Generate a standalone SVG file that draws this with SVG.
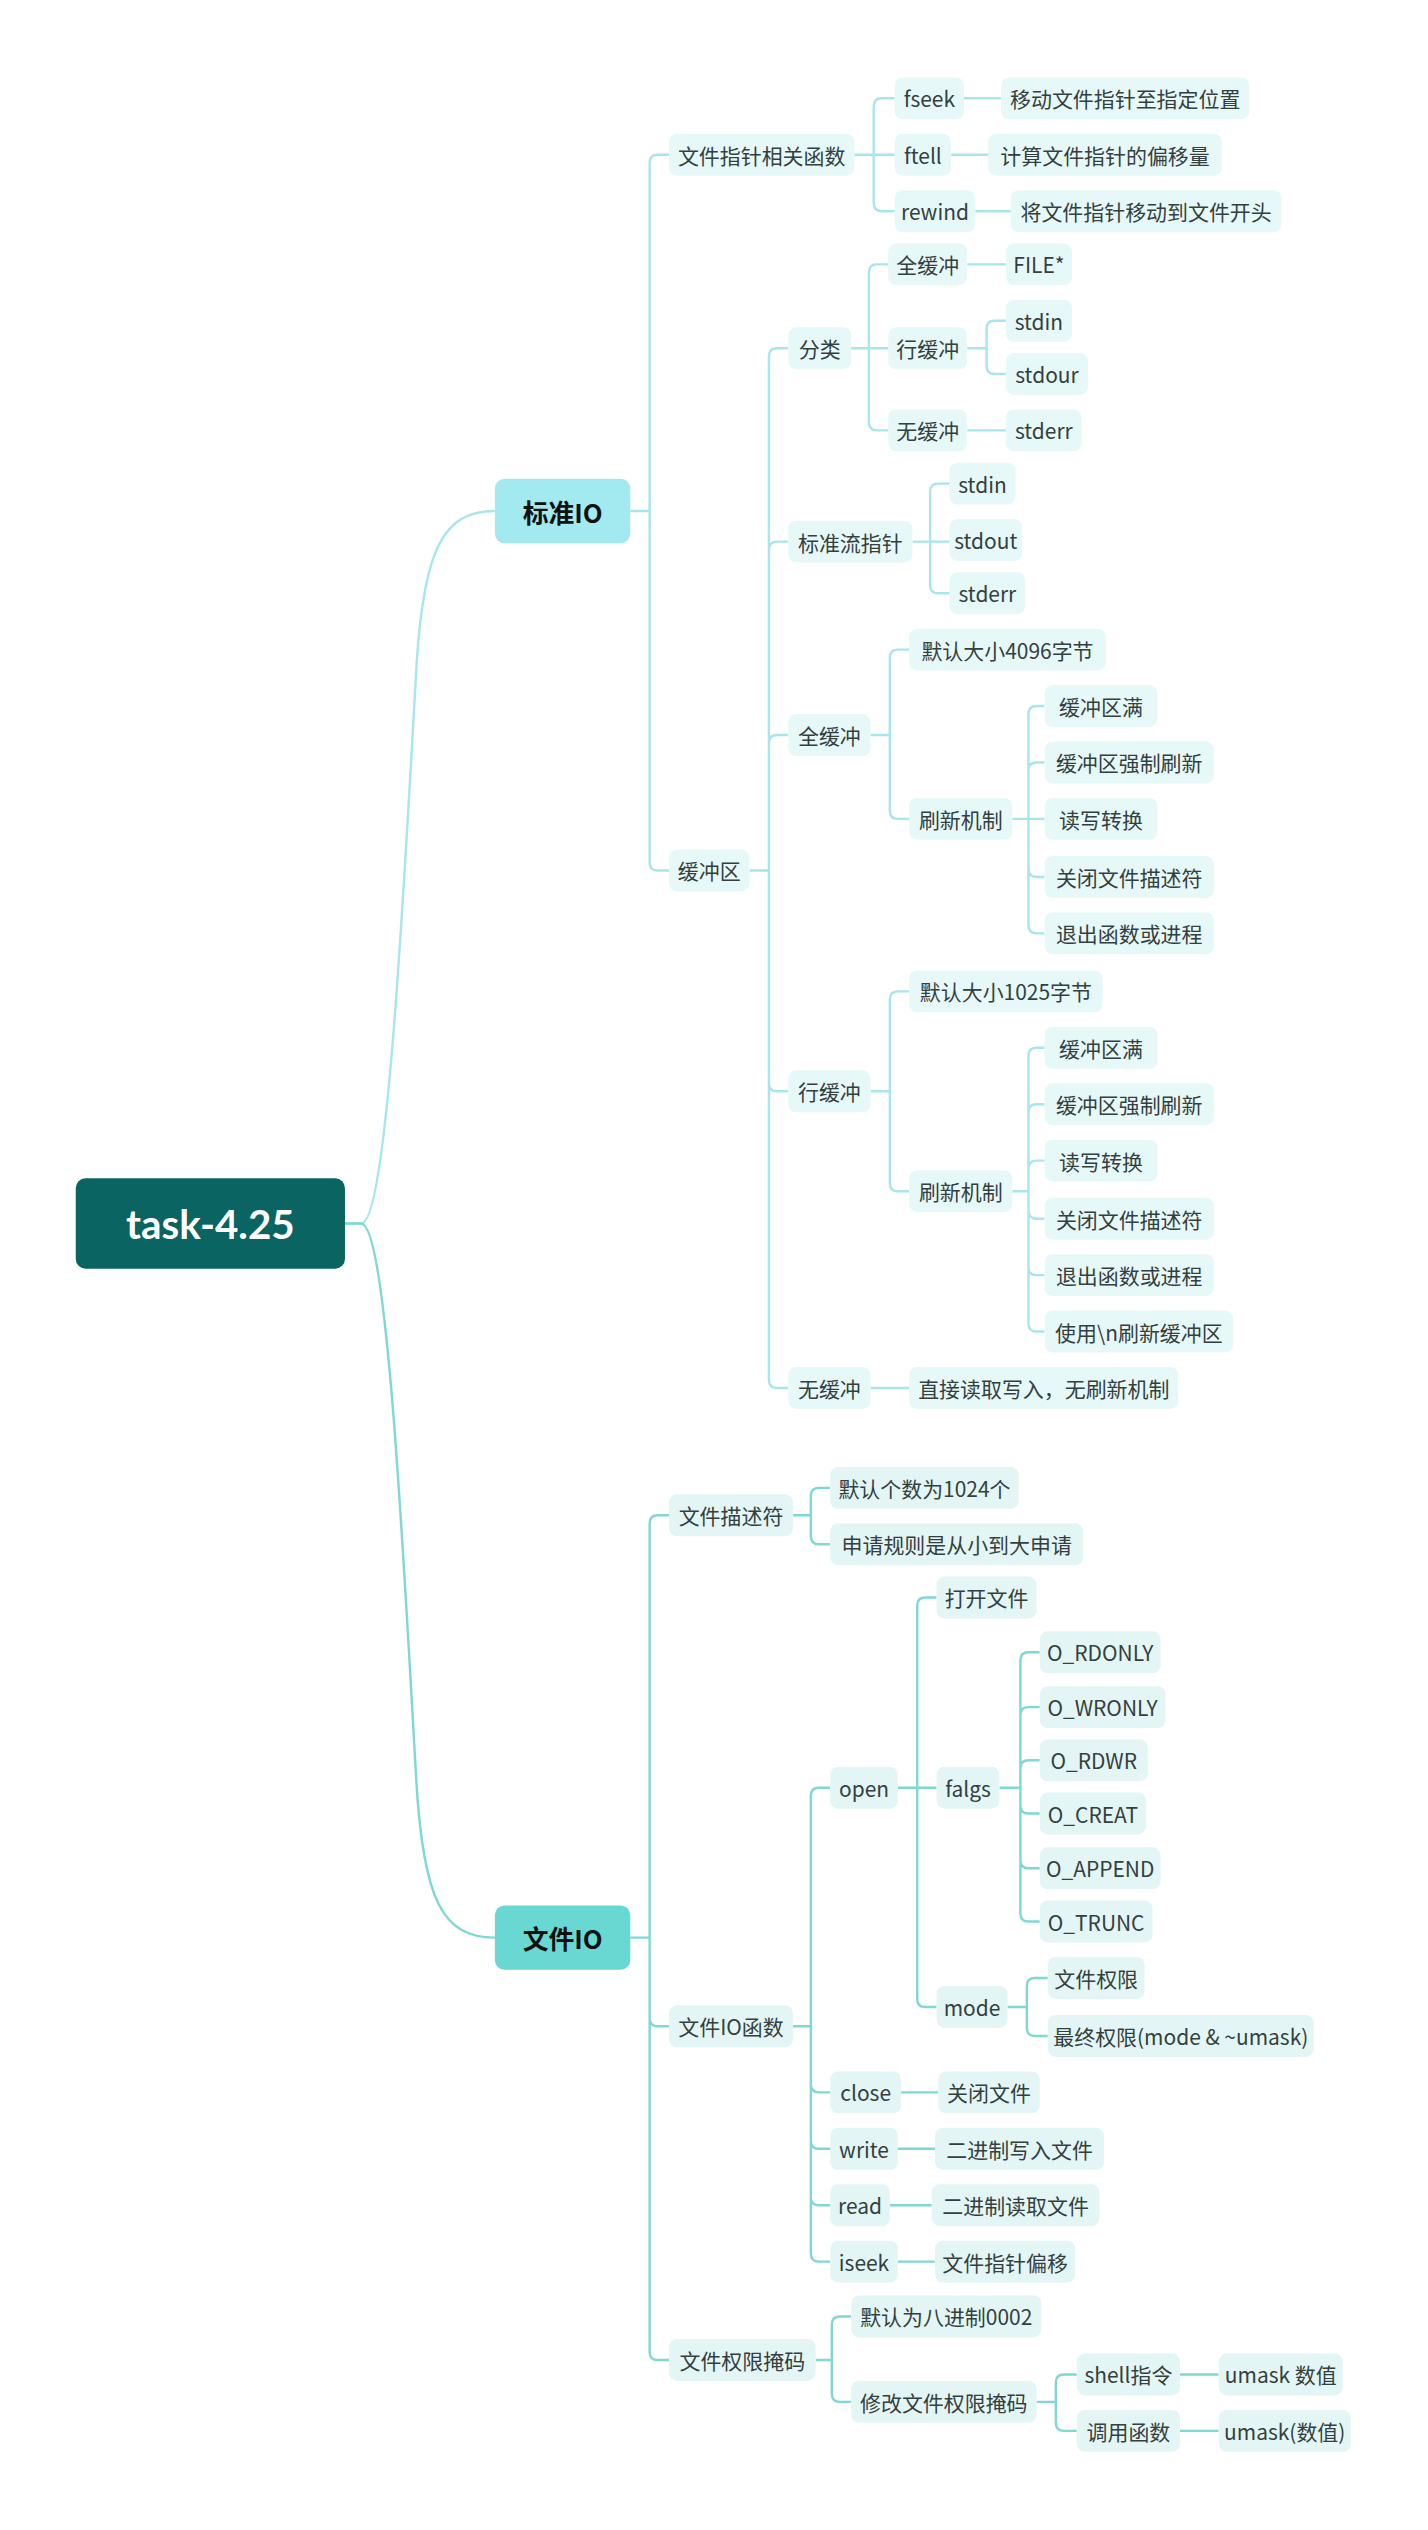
<svg xmlns="http://www.w3.org/2000/svg" width="1428" height="2530" viewBox="0 0 1428 2530">
<style>
.n rect{fill:#e7f8f9}
.m rect{fill:#e3f6f5}
text{font-family:"Noto Sans CJK SC","Noto Sans",sans-serif;font-size:13px;fill:#33403f;text-anchor:middle;dominant-baseline:central}
.u{fill:none;stroke:#a8e6ec;stroke-width:1.5}
.l{fill:none;stroke:#80d8d3;stroke-width:1.5}
</style>
<rect width="1428" height="2530" fill="#fff"/>
<g transform="scale(1.612)">
<g id="connectors">
<path class="u" d="M214 759H224C240 759 250 560 258 420C262 340 275 317 307 317"/>
<path class="l" d="M214 759H224C240 759 250 960 258 1100C262 1180 275 1202 307 1202"/>
<path class="u" d="M391 317H403V101Q403 96 408 96H415M403 317V535Q403 540 408 540H415"/>
<path class="l" d="M391 1202H403V945Q403 940 408 940H415M403 1202V1252Q403 1257 408 1257H415M403 1202V1459Q403 1464 408 1464H415"/>
<path class="u" d="M530 96H542V66Q542 61 547 61H555M542 96H555M542 96V126Q542 131 547 131H555"/>
<path class="u" d="M598 61H621M590 96H613M605 131H627"/>
<path class="u" d="M465 540H477V221Q477 216 482 216H489M477 540V341Q477 336 482 336H489M477 540V461Q477 456 482 456H489M477 540V672Q477 677 482 677H489M477 540V856Q477 861 482 861H489"/>
<path class="u" d="M528 216H539V169Q539 164 544 164H551M539 216H551M539 216V262Q539 267 544 267H551"/>
<path class="u" d="M600 164H624M600 216H612V204Q612 199 617 199H624M612 216V227Q612 232 617 232H624M600 267H624"/>
<path class="u" d="M566 336H577V305Q577 300 582 300H589M577 336H589M577 336V363Q577 368 582 368H589"/>
<path class="u" d="M540 456H552V408Q552 403 557 403H564M552 456V503Q552 508 557 508H564"/>
<path class="u" d="M628 508H638V443Q638 438 643 438H648M638 508V478Q638 473 643 473H648M638 508H648M638 508V539Q638 544 643 544H648M638 508V574Q638 579 643 579H648"/>
<path class="u" d="M540 677H552V620Q552 615 557 615H564M552 677V734Q552 739 557 739H564"/>
<path class="u" d="M628 739H638V655Q638 650 643 650H648M638 739V690Q638 685 643 685H648M638 739V725Q638 720 643 720H648M638 739V751Q638 756 643 756H648M638 739V786Q638 791 643 791H648M638 739V821Q638 826 643 826H648"/>
<path class="u" d="M540 861H564"/>
<path class="l" d="M492 940H503V928Q503 923 508 923H515M503 940V953Q503 958 508 958H515"/>
<path class="l" d="M492 1257H503V1114Q503 1109 508 1109H515M503 1257V1293Q503 1298 508 1298H515M503 1257V1328Q503 1333 508 1333H515M503 1257V1363Q503 1368 508 1368H515M503 1257V1398Q503 1403 508 1403H515"/>
<path class="l" d="M557 1109H569V996Q569 991 574 991H581M569 1109H581M569 1109V1240Q569 1245 574 1245H581"/>
<path class="l" d="M620 1109H633V1030Q633 1025 638 1025H645M633 1109V1064Q633 1059 638 1059H645M633 1109V1097Q633 1092 638 1092H645M633 1109V1120Q633 1125 638 1125H645M633 1109V1154Q633 1159 638 1159H645M633 1109V1187Q633 1192 638 1192H645"/>
<path class="l" d="M625 1245H637V1232Q637 1227 642 1227H650M637 1245V1258Q637 1263 642 1263H650"/>
<path class="l" d="M559 1298H582M557 1333H580M552 1368H578M557 1403H580"/>
<path class="l" d="M506 1464H516V1442Q516 1437 521 1437H528M516 1464V1485Q516 1490 521 1490H528"/>
<path class="l" d="M643 1490H655V1478Q655 1473 660 1473H668M655 1490V1503Q655 1508 660 1508H668M732 1473H756M732 1508H756"/>
</g>
<g id="root"><rect x="47" y="731" width="167" height="56" rx="6" fill="#0a6461"/><text x="130.5" y="759" style="font-size:25px;font-weight:bold;fill:#fff;font-family:'Lato','Noto Sans',sans-serif">task-4.25</text></g>
<g id="std-io"><rect x="307" y="297" width="84" height="40" rx="6" fill="#a2eaef"/><text x="349" y="317" style="font-size:16px;font-weight:bold;fill:#111">标准IO</text></g>
<g id="file-io"><rect x="307" y="1182" width="84" height="40" rx="6" fill="#69d8d3"/><text x="349" y="1202" style="font-size:16px;font-weight:bold;fill:#111">文件IO</text></g>

<g id="n1" class="n"><rect x="415" y="83" width="115" height="26" rx="5"/><text x="472.5" y="96">文件指针相关函数</text></g>
<g id="n2" class="n"><rect x="555" y="48" width="43" height="26" rx="5"/><text x="576.5" y="61">fseek</text></g>
<g id="n3" class="n"><rect x="621" y="48" width="154" height="26" rx="5"/><text x="698" y="61">移动文件指针至指定位置</text></g>
<g id="n4" class="n"><rect x="555" y="83" width="35" height="26" rx="5"/><text x="572.5" y="96">ftell</text></g>
<g id="n5" class="n"><rect x="613" y="83" width="145" height="26" rx="5"/><text x="685.5" y="96">计算文件指针的偏移量</text></g>
<g id="n6" class="n"><rect x="555" y="118" width="50" height="26" rx="5"/><text x="580" y="131">rewind</text></g>
<g id="n7" class="n"><rect x="627" y="118" width="168" height="26" rx="5"/><text x="711" y="131">将文件指针移动到文件开头</text></g>
<g id="n8" class="n"><rect x="415" y="527" width="50" height="26" rx="5"/><text x="440" y="540">缓冲区</text></g>
<g id="n9" class="n"><rect x="489" y="203" width="39" height="26" rx="5"/><text x="508.5" y="216">分类</text></g>
<g id="n10" class="n"><rect x="551" y="151" width="49" height="26" rx="5"/><text x="575.5" y="164">全缓冲</text></g>
<g id="n11" class="n"><rect x="624" y="151" width="41" height="26" rx="5"/><text x="644.5" y="164">FILE*</text></g>
<g id="n12" class="n"><rect x="551" y="203" width="49" height="26" rx="5"/><text x="575.5" y="216">行缓冲</text></g>
<g id="n13" class="n"><rect x="624" y="186" width="41" height="26" rx="5"/><text x="644.5" y="199">stdin</text></g>
<g id="n14" class="n"><rect x="624" y="219" width="51" height="26" rx="5"/><text x="649.5" y="232">stdour</text></g>
<g id="n15" class="n"><rect x="551" y="254" width="49" height="26" rx="5"/><text x="575.5" y="267">无缓冲</text></g>
<g id="n16" class="n"><rect x="624" y="254" width="47" height="26" rx="5"/><text x="647.5" y="267">stderr</text></g>
<g id="n17" class="n"><rect x="489" y="323" width="77" height="26" rx="5"/><text x="527.5" y="336">标准流指针</text></g>
<g id="n18" class="n"><rect x="589" y="287" width="41" height="26" rx="5"/><text x="609.5" y="300">stdin</text></g>
<g id="n19" class="n"><rect x="589" y="322" width="45" height="26" rx="5"/><text x="611.5" y="335">stdout</text></g>
<g id="n20" class="n"><rect x="589" y="355" width="47" height="26" rx="5"/><text x="612.5" y="368">stderr</text></g>
<g id="n21" class="n"><rect x="489" y="443" width="51" height="26" rx="5"/><text x="514.5" y="456">全缓冲</text></g>
<g id="n22" class="n"><rect x="564" y="390" width="122" height="26" rx="5"/><text x="625" y="403">默认大小4096字节</text></g>
<g id="n23" class="n"><rect x="564" y="495" width="64" height="26" rx="5"/><text x="596" y="508">刷新机制</text></g>
<g id="n24" class="n"><rect x="648" y="425" width="70" height="26" rx="5"/><text x="683" y="438">缓冲区满</text></g>
<g id="n25" class="n"><rect x="648" y="460" width="105" height="26" rx="5"/><text x="700.5" y="473">缓冲区强制刷新</text></g>
<g id="n26" class="n"><rect x="648" y="495" width="70" height="26" rx="5"/><text x="683" y="508">读写转换</text></g>
<g id="n27" class="n"><rect x="648" y="531" width="105" height="26" rx="5"/><text x="700.5" y="544">关闭文件描述符</text></g>
<g id="n28" class="n"><rect x="648" y="566" width="105" height="26" rx="5"/><text x="700.5" y="579">退出函数或进程</text></g>
<g id="n29" class="n"><rect x="489" y="664" width="51" height="26" rx="5"/><text x="514.5" y="677">行缓冲</text></g>
<g id="n30" class="n"><rect x="564" y="602" width="120" height="26" rx="5"/><text x="624" y="615">默认大小1025字节</text></g>
<g id="n31" class="n"><rect x="564" y="726" width="64" height="26" rx="5"/><text x="596" y="739">刷新机制</text></g>
<g id="n32" class="n"><rect x="648" y="637" width="70" height="26" rx="5"/><text x="683" y="650">缓冲区满</text></g>
<g id="n33" class="n"><rect x="648" y="672" width="105" height="26" rx="5"/><text x="700.5" y="685">缓冲区强制刷新</text></g>
<g id="n34" class="n"><rect x="648" y="707" width="70" height="26" rx="5"/><text x="683" y="720">读写转换</text></g>
<g id="n35" class="n"><rect x="648" y="743" width="105" height="26" rx="5"/><text x="700.5" y="756">关闭文件描述符</text></g>
<g id="n36" class="n"><rect x="648" y="778" width="105" height="26" rx="5"/><text x="700.5" y="791">退出函数或进程</text></g>
<g id="n37" class="n"><rect x="648" y="813" width="117" height="26" rx="5"/><text x="706.5" y="826">使用\n刷新缓冲区</text></g>
<g id="n38" class="n"><rect x="489" y="848" width="51" height="26" rx="5"/><text x="514.5" y="861">无缓冲</text></g>
<g id="n39" class="n"><rect x="564" y="848" width="167" height="26" rx="5"/><text x="647.5" y="861">直接读取写入，无刷新机制</text></g>

<g id="f1" class="m"><rect x="415" y="927" width="77" height="26" rx="5"/><text x="453.5" y="940">文件描述符</text></g>
<g id="f2" class="m"><rect x="515" y="910" width="117" height="26" rx="5"/><text x="573.5" y="923">默认个数为1024个</text></g>
<g id="f3" class="m"><rect x="515" y="945" width="157" height="26" rx="5"/><text x="593.5" y="958">申请规则是从小到大申请</text></g>
<g id="f4" class="m"><rect x="415" y="1244" width="77" height="26" rx="5"/><text x="453.5" y="1257">文件IO函数</text></g>
<g id="f5" class="m"><rect x="515" y="1096" width="42" height="26" rx="5"/><text x="536" y="1109">open</text></g>
<g id="f6" class="m"><rect x="581" y="978" width="62" height="26" rx="5"/><text x="612" y="991">打开文件</text></g>
<g id="f7" class="m"><rect x="581" y="1096" width="39" height="26" rx="5"/><text x="600.5" y="1109">falgs</text></g>
<g id="f8" class="m"><rect x="645" y="1012" width="75" height="26" rx="5"/><text x="682.5" y="1025">O_RDONLY</text></g>
<g id="f9" class="m"><rect x="645" y="1046" width="78" height="26" rx="5"/><text x="684" y="1059">O_WRONLY</text></g>
<g id="f10" class="m"><rect x="645" y="1079" width="67" height="26" rx="5"/><text x="678.5" y="1092">O_RDWR</text></g>
<g id="f11" class="m"><rect x="645" y="1112" width="66" height="26" rx="5"/><text x="678" y="1125">O_CREAT</text></g>
<g id="f12" class="m"><rect x="645" y="1146" width="75" height="26" rx="5"/><text x="682.5" y="1159">O_APPEND</text></g>
<g id="f13" class="m"><rect x="645" y="1179" width="70" height="26" rx="5"/><text x="680" y="1192">O_TRUNC</text></g>
<g id="f14" class="m"><rect x="581" y="1232" width="44" height="26" rx="5"/><text x="603" y="1245">mode</text></g>
<g id="f15" class="m"><rect x="650" y="1214" width="60" height="26" rx="5"/><text x="680" y="1227">文件权限</text></g>
<g id="f16" class="m"><rect x="650" y="1250" width="165" height="26" rx="5"/><text x="732.5" y="1263">最终权限(mode &amp; ~umask)</text></g>
<g id="f17" class="m"><rect x="515" y="1285" width="44" height="26" rx="5"/><text x="537" y="1298">close</text></g>
<g id="f18" class="m"><rect x="582" y="1285" width="63" height="26" rx="5"/><text x="613.5" y="1298">关闭文件</text></g>
<g id="f19" class="m"><rect x="515" y="1320" width="42" height="26" rx="5"/><text x="536" y="1333">write</text></g>
<g id="f20" class="m"><rect x="580" y="1320" width="105" height="26" rx="5"/><text x="632.5" y="1333">二进制写入文件</text></g>
<g id="f21" class="m"><rect x="515" y="1355" width="37" height="26" rx="5"/><text x="533.5" y="1368">read</text></g>
<g id="f22" class="m"><rect x="578" y="1355" width="104" height="26" rx="5"/><text x="630" y="1368">二进制读取文件</text></g>
<g id="f23" class="m"><rect x="515" y="1390" width="42" height="26" rx="5"/><text x="536" y="1403">iseek</text></g>
<g id="f24" class="m"><rect x="580" y="1390" width="87" height="26" rx="5"/><text x="623.5" y="1403">文件指针偏移</text></g>
<g id="f25" class="m"><rect x="415" y="1451" width="91" height="26" rx="5"/><text x="460.5" y="1464">文件权限掩码</text></g>
<g id="f26" class="m"><rect x="528" y="1424" width="118" height="26" rx="5"/><text x="587" y="1437">默认为八进制0002</text></g>
<g id="f27" class="m"><rect x="528" y="1477" width="115" height="26" rx="5"/><text x="585.5" y="1490">修改文件权限掩码</text></g>
<g id="f28" class="m"><rect x="668" y="1460" width="64" height="26" rx="5"/><text x="700" y="1473">shell指令</text></g>
<g id="f29" class="m"><rect x="756" y="1460" width="77" height="26" rx="5"/><text x="794.5" y="1473">umask 数值</text></g>
<g id="f30" class="m"><rect x="668" y="1495" width="64" height="26" rx="5"/><text x="700" y="1508">调用函数</text></g>
<g id="f31" class="m"><rect x="756" y="1495" width="82" height="26" rx="5"/><text x="797" y="1508">umask(数值)</text></g>
</g>
</svg>
